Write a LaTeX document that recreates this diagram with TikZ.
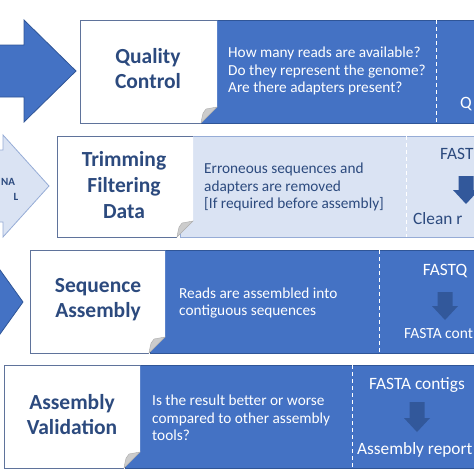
\documentclass[tikz,border=0pt]{standalone}
\usepackage{fontspec}
\setmainfont{Carlito}
\definecolor{panelblue}{RGB}{68,114,196}
\definecolor{panelborder}{RGB}{47,85,151}
\definecolor{lightpanel}{RGB}{218,227,243}
\definecolor{lightborder}{RGB}{150,172,214}
\definecolor{navy}{RGB}{44,74,126}
\definecolor{boxborder}{RGB}{95,115,155}
\definecolor{darkarrow}{RGB}{50,88,155}
\newcommand\cardbox[5]{% L, S, T, B, c
  \fill[white] (#1,#3) -- (#2,#3) -- (#2,#4-#5) -- (#2-#5,#4) -- (#1,#4) -- cycle;
  \draw[whitebox] (#2,#3) -- (#1,#3) -- (#1,#4) -- (#2-#5,#4);
  \draw[curl] (#2-#5,#4) .. controls (#2-#5+2,#4-#5+5) .. (#2-#5+5,#4-#5+2) -- (#2,#4-#5) -- cycle;
}
\newcommand\blockdown[4]{% x, top, bottom, colour
  \fill[#4] (#1-7.5,#2) -- (#1+7.5,#2) -- (#1+7.5,#3-14) -- (#1+13,#3-14) -- (#1,#3)
    -- (#1-13,#3-14) -- (#1-7.5,#3-14) -- cycle;
}
\begin{document}
\begin{tikzpicture}[x=1pt,y=-1pt,
  titletext/.style={font=\fontsize{21.5}{25}\selectfont\bfseries, text=navy, align=center, inner sep=0},
  bodywhite/.style={font=\fontsize{15.3}{17.7}\selectfont, text=white, align=left, anchor=west, inner sep=0},
  bodynavy/.style={bodywhite, text=navy},
  coltext/.style={font=\fontsize{17.3}{20}\selectfont, text=white, inner sep=0},
  colnavy/.style={coltext, text=navy},
  darkpanel/.style={fill=panelblue, draw=panelborder, line width=0.8},
  lightpanelst/.style={fill=lightpanel, draw=lightborder, line width=0.8},
  whitebox/.style={draw=boxborder, line width=1},
  divider/.style={draw=white, dash pattern=on 4pt off 3pt, line width=0.8},
  curl/.style={fill=gray!40, draw=gray!65, line width=0.4},
  arrowtext/.style={font=\fontsize{11}{13}\selectfont\bfseries, text=navy, inner sep=0}
]
\useasboundingbox (0,0) rectangle (474,474);
\clip (0,0) rectangle (474,474);

% ---------- Row 1: Quality Control ----------
\draw[darkpanel] (-5,45) -- (24,45) -- (24,20) -- (76,71) -- (24,122) -- (24,97) -- (-5,97) -- cycle;
\draw[darkpanel] (200,20) rectangle (490,123);
\cardbox{80}{217}{20}{123}{16}
\draw[divider] (436,20) -- (436,123);
\node[titletext] (qc) at (148,69) {Quality\\Control};
\node[bodywhite] (qcq) at (228,71) {How many reads are available?\\Do they represent the genome?\\Are there adapters present?};
\node[coltext, anchor=west] (qcout) at (460,104) {Q};

% ---------- Row 2: Trimming ----------
\draw[lightpanelst] (-5,150) -- (3,150) -- (3,135) -- (49,186) -- (3,237) -- (3,222) -- (-5,222) -- cycle;
\node[arrowtext, anchor=west] (na) at (1,182) {NA};
\node[arrowtext] (nl) at (16,197) {L};
\draw[lightpanelst] (180,136) rectangle (490,237);
\cardbox{57}{193}{136}{237}{16}
\draw[divider] (406,136) -- (406,237);
\node[titletext] (tr) at (124,185) {Trimming\\[1pt]Filtering\\[1pt]Data};
\node[bodynavy] (trq) at (204,187) {Erroneous sequences and\\adapters are removed\\{[}If required before assembly{]}};
\node[colnavy, anchor=west] (trin) at (440,154) {FAST};
\blockdown{466}{176}{204}{darkarrow}
\node[colnavy, anchor=west] (trout) at (413,219) {Clean r};

% ---------- Row 3: Sequence Assembly ----------
\draw[darkpanel] (-10,256) -- (23,302) -- (-10,348) -- cycle;
\draw[darkpanel] (150,250) rectangle (490,353);
\cardbox{30}{165}{250}{353}{16}
\draw[divider] (379,250) -- (379,353);
\node[titletext] (sa) at (98,300) {Sequence\\Assembly};
\node[bodywhite] (saq) at (179,303) {Reads are assembled into\\contiguous sequences};
\node[coltext] (sain) at (445,271) {FASTQ};
\blockdown{445}{292}{320}{darkarrow}
\node[coltext, anchor=west, font=\fontsize{15.5}{18}\selectfont] (saout) at (404,334) {FASTA cont};

% ---------- Row 4: Assembly Validation ----------
\draw[darkpanel] (125,365) rectangle (490,468);
\cardbox{4}{140}{365}{468}{16}
\draw[divider] (352,365) -- (352,468);
\node[titletext] (av) at (72,415) {Assembly\\Validation};
\node[bodywhite] (avq) at (152,418) {Is the result better or worse\\compared to other assembly\\tools?};
\node[coltext] (avin) at (417,385) {FASTA contigs};
\blockdown{417}{402}{432}{darkarrow}
\node[coltext, anchor=west] (avout) at (357,450) {Assembly report};
\end{tikzpicture}
\end{document}
